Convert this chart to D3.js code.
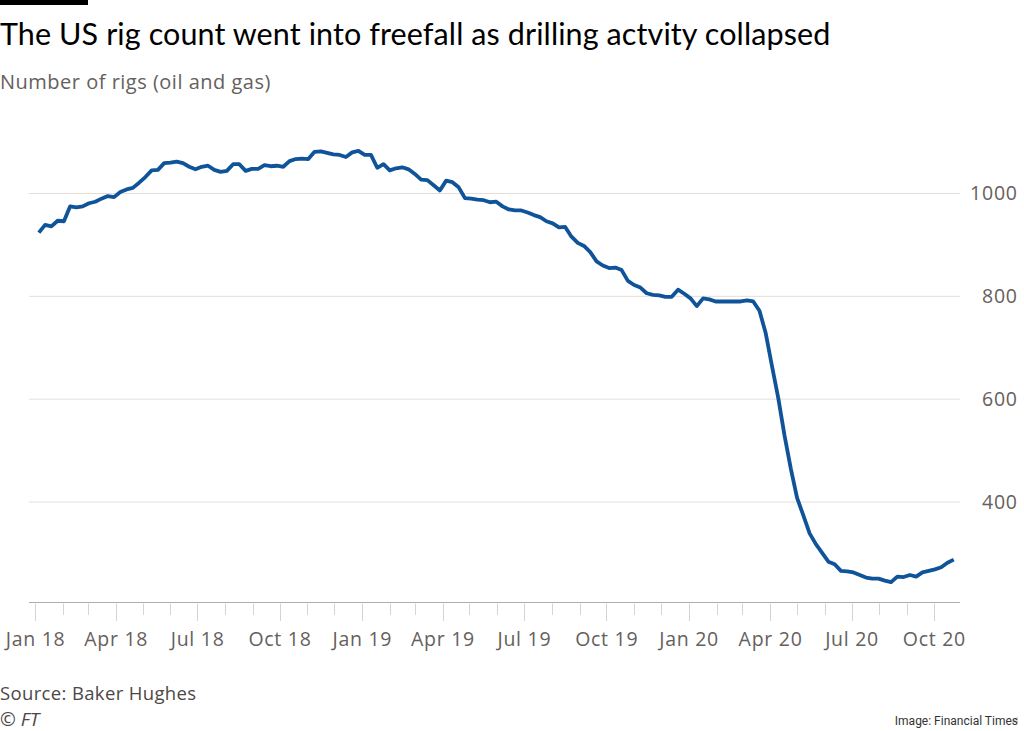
<!DOCTYPE html>
<html>
<head>
<meta charset="utf-8">
<script src="https://cdn.jsdelivr.net/npm/d3@7"></script>
<style>
  body { margin: 0; background: #fff; }
  svg { display: block; }
</style>
</head>
<body>
<div id="chart"></div>
<script>
// weekly US rig count (Fridays)
var start = "2018-01-05";
var values2018 = [924, 939, 936, 947, 946, 975, 973, 975, 981, 984, 990, 995, 993,
  1003, 1008, 1011, 1021, 1032, 1045, 1046, 1059, 1060, 1062, 1059, 1052, 1047,
  1052, 1054, 1046, 1042, 1044, 1057, 1057, 1044, 1048, 1048, 1055, 1053, 1054,
  1052, 1063, 1067, 1068, 1067, 1081, 1082, 1079, 1076, 1075, 1071, 1080, 1083];
var values2019 = [1075, 1075, 1050, 1057, 1045, 1049, 1051, 1047, 1038, 1027, 1026, 1016, 1006,
  1025, 1022, 1012, 991, 990, 988, 987, 983, 984, 975, 969, 967, 967,
  963, 958, 954, 946, 942, 934, 935, 916, 904, 898, 886, 868, 860,
  855, 856, 851, 830, 822, 817, 806, 803, 802, 799, 799, 813, 805];
var values2020 = [796, 781, 796, 794, 790, 790, 790, 790, 790, 792, 790, 772, 728,
  664, 602, 529, 465, 408, 374, 339, 318, 301, 284, 279, 266, 265,
  263, 258, 253, 251, 251, 247, 244, 255, 254, 258, 255, 263, 266,
  269, 273, 282, 288];
var yTicks = [400, 600, 800, 1000];

var title = "The US rig count went into freefall as drilling actvity collapsed";
var subtitle = "Number of rigs (oil and gas)";
var source = "Source: Baker Hughes";

var W = 1024, H = 731;
var sans = "'Open Sans', Lato, sans-serif";
var grey = "#66605c";

var values = values2018.concat(values2019, values2020);
var t0 = new Date(start + "T00:00:00Z");
var dates = d3.utcFriday.range(t0, d3.utcDay.offset(t0, 7 * values.length));
var data = values.map(function(v, i) { return {date: dates[i], value: v}; });

var x = d3.scaleUtc()
    .domain([new Date("2017-12-25T00:00:00Z"), new Date("2020-10-30T00:00:00Z")])
    .range([29, 960]);

var y = d3.scaleLinear()
    .domain([400, 1000])
    .range([502, 193.5]);
var yBase = 602.5;

var svg = d3.select("#chart").append("svg")
    .attr("width", W)
    .attr("height", H);

// a little letter-spacing to get closer to the wider FT font, capped
function spacingFor(node, target, maxLs) {
  var len = node.getComputedTextLength();
  var n = node.textContent.length;
  var ls = (target - len) / Math.max(1, n - 1);
  return Math.max(-0.5, Math.min(maxLs, ls));
}
function fit(sel, target, maxLs) {
  var ls = spacingFor(sel.node(), target, maxLs);
  sel.attr("letter-spacing", ls.toFixed(2));
  return ls;
}

svg.append("rect")
    .attr("x", 0).attr("y", 0)
    .attr("width", 88).attr("height", 5)
    .attr("fill", "#000");

var tTitle = svg.append("text")
    .attr("x", 0).attr("y", 45)
    .attr("font-family", "Lato, 'Open Sans', sans-serif")
    .attr("font-size", 30.5)
    .attr("fill", "#000")
    .text(title);
fit(tTitle, 830, 1);

var tSub = svg.append("text")
    .attr("x", 0).attr("y", 89)
    .attr("font-family", sans)
    .attr("font-size", 20)
    .attr("fill", grey)
    .text(subtitle);
fit(tSub, 281, 0.5);

// gridlines + y labels
var grid = svg.append("g");
grid.selectAll("line")
    .data(yTicks)
  .enter().append("line")
    .attr("x1", 29).attr("x2", 960)
    .attr("y1", function(d) { return y(d); })
    .attr("y2", function(d) { return y(d); })
    .attr("stroke", "#e6ded6")
    .attr("stroke-width", 1);

var yLabels = grid.selectAll("text")
    .data(yTicks)
  .enter().append("text")
    .attr("x", 1017)
    .attr("y", function(d) { return y(d); })
    .attr("dy", "0.35em")
    .attr("text-anchor", "end")
    .attr("font-family", sans)
    .attr("font-size", 19.5)
    .attr("fill", grey)
    .text(function(d) { return d; });
var lsY = spacingFor(yLabels.filter(function(d) { return d === 1000; }).node(), 51, 0.8);
yLabels.attr("letter-spacing", lsY.toFixed(2)).attr("x", 1017 + lsY);

// x axis
var xAxis = svg.append("g");
xAxis.append("line")
    .attr("x1", 29).attr("x2", 960)
    .attr("y1", yBase).attr("y2", yBase)
    .attr("stroke", "#b5aea8");

var months = d3.utcMonth.range(new Date("2018-01-01T00:00:00Z"), new Date("2020-10-30T00:00:00Z"));
xAxis.selectAll(".tick")
    .data(months)
  .enter().append("line")
    .attr("class", "tick")
    .attr("x1", function(d) { return Math.round(x(d)) + 0.5; })
    .attr("x2", function(d) { return Math.round(x(d)) + 0.5; })
    .attr("y1", yBase + 1)
    .attr("y2", function(d) { return d.getUTCMonth() % 3 === 0 ? 621 : 615; })
    .attr("stroke", "#d9d3cd");

var fmt = d3.utcFormat("%b %y");
var xLabels = xAxis.selectAll(".lbl")
    .data(months.filter(function(d) { return d.getUTCMonth() % 3 === 0; }))
  .enter().append("text")
    .attr("class", "lbl")
    .attr("x", function(d) { return x(d); })
    .attr("y", 639)
    .attr("dy", "0.35em")
    .attr("text-anchor", "middle")
    .attr("font-family", sans)
    .attr("font-size", 19.5)
    .attr("fill", grey)
    .text(function(d) { return fmt(d); });
var lsX = spacingFor(xLabels.node(), 59, 0.8);
xLabels.attr("letter-spacing", lsX.toFixed(2))
    .attr("x", function(d) { return x(d) + lsX / 2; });

// the line
var line = d3.line()
    .x(function(d) { return x(d.date); })
    .y(function(d) { return y(d.value); });

svg.append("path")
    .datum(data)
    .attr("fill", "none")
    .attr("stroke", "#0f5499")
    .attr("stroke-width", 3.8)
    .attr("stroke-linejoin", "round")
    .attr("d", line);

// footer
var tSrc = svg.append("text")
    .attr("x", 0).attr("y", 700)
    .attr("font-family", sans)
    .attr("font-size", 18.5)
    .attr("fill", "#4d4845")
    .text(source);
fit(tSrc, 196, 0.5);

svg.append("text")
    .attr("x", 0).attr("y", 726)
    .attr("font-family", sans)
    .attr("font-size", 19)
    .attr("font-style", "italic")
    .attr("fill", "#4d4845")
    .text("© FT");

svg.append("path")
    .attr("d", "M1011,723 L1018,716 L1018,723 Z")
    .attr("fill", "#e2ddd8");

svg.append("text")
    .attr("x", 1018).attr("y", 725)
    .attr("text-anchor", "end")
    .attr("font-family", "Roboto, sans-serif")
    .attr("font-size", 12)
    .attr("fill", "#333")
    .text("Image: Financial Times");
</script>
</body>
</html>
